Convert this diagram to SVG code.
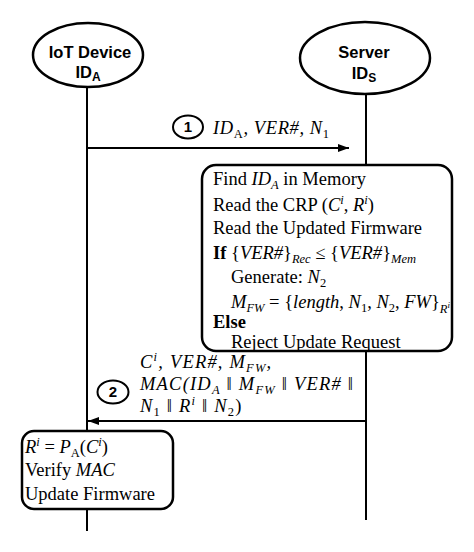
<svg xmlns="http://www.w3.org/2000/svg" width="474" height="552" viewBox="0 0 474 552">
<defs>
<style>
.ell{fill:#fff;stroke:#000;stroke-width:2.5}
.box{fill:#fff;stroke:#000;stroke-width:2.5}
.life{stroke:#000;stroke-width:2;fill:none}
.msg{stroke:#000;stroke-width:2;fill:none}
.hd{font-family:"Liberation Sans",Arial,sans-serif;font-weight:bold;font-size:16.5px;text-anchor:middle}
.hs{font-size:12px}
.t{font-family:"Liberation Serif","Times New Roman",serif;font-size:18.5px}
.i{font-style:italic}
.s{font-size:12.5px}
.ss{font-size:9px}
.b{font-weight:bold}
.num{font-family:"Liberation Sans",Arial,sans-serif;font-weight:bold;font-size:15px;text-anchor:middle}
.m1{letter-spacing:0.6px}
.m2{letter-spacing:1.2px}
</style>
<marker id="ah" markerWidth="12" markerHeight="10" refX="11" refY="5" orient="auto" markerUnits="userSpaceOnUse">
<path d="M0,1 L11,5 L0,9 Z" fill="#000"/>
</marker>
</defs>
<g id="connectors">
<line class="life" x1="87" y1="86" x2="87" y2="531"/>
<line class="life" x1="366" y1="93" x2="366" y2="520"/>
<line class="msg" x1="87" y1="148" x2="349" y2="148" marker-end="url(#ah)"/>
<line class="msg" x1="366" y1="421" x2="88" y2="421" marker-end="url(#ah)"/>
</g>
<g id="iot-device">
<ellipse class="ell" cx="88" cy="55" rx="55" ry="32"/>
<text class="hd" x="90" y="58">IoT Device</text>
<text class="hd" x="88" y="78">ID<tspan class="hs" dy="3">A</tspan></text>
</g>
<g id="server">
<ellipse class="ell" cx="365" cy="58" rx="65" ry="36"/>
<text class="hd" x="364" y="58">Server</text>
<text class="hd" x="364" y="79">ID<tspan class="hs" dy="3">S</tspan></text>
</g>
<g id="msg1-label">
<ellipse cx="188" cy="127" rx="15" ry="11.5" fill="#fff" stroke="#000" stroke-width="2"/>
<text class="num" x="188" y="132">1</text>
<text class="t i m1" x="213" y="134">ID<tspan class="s" dy="4" font-style="normal">A</tspan><tspan dy="-4">, VER#, N</tspan><tspan class="s" dy="4" font-style="normal">1</tspan></text>
</g>
<g id="server-process">
<rect class="box" x="202" y="165" width="250" height="186" rx="14"/>
<text class="t" x="213" y="185">Find <tspan class="i">ID</tspan><tspan class="i s" dy="4">A</tspan><tspan dy="-4"> in Memory</tspan></text>
<text class="t" x="213" y="211">Read the CRP (<tspan class="i">C</tspan><tspan class="i s" dy="-7">i</tspan><tspan dy="7">, </tspan><tspan class="i">R</tspan><tspan class="i s" dy="-7">i</tspan><tspan dy="7">)</tspan></text>
<text class="t" x="213" y="234">Read the Updated Firmware</text>
<text class="t" x="213" y="259"><tspan class="b">If</tspan> {<tspan class="i">VER#</tspan>}<tspan class="i s" dy="4">Rec</tspan><tspan dy="-4"> ≤ {</tspan><tspan class="i">VER#</tspan>}<tspan class="i s" dy="4">Mem</tspan></text>
<text class="t" x="231" y="283">Generate: <tspan class="i">N</tspan><tspan class="s" dy="4">2</tspan></text>
<text class="t" x="231" y="308"><tspan class="i">M</tspan><tspan class="i s" dy="4">FW</tspan><tspan dy="-4"> = {</tspan><tspan class="i">length</tspan>, <tspan class="i">N</tspan><tspan class="s" dy="4">1</tspan><tspan dy="-4">, </tspan><tspan class="i">N</tspan><tspan class="s" dy="4">2</tspan><tspan dy="-4">, </tspan><tspan class="i">FW</tspan>}<tspan class="i s" dy="5">R</tspan><tspan class="i ss" dy="-5">i</tspan></text>
<text class="t b" x="213" y="328">Else</text>
<text class="t" x="231" y="348">Reject Update Request</text>
</g>
<g id="msg2-label">
<ellipse cx="113" cy="392" rx="15.5" ry="11.5" fill="#fff" stroke="#000" stroke-width="2"/>
<text class="num" x="113" y="397">2</text>
<text class="t i m2" x="140" y="368">C<tspan class="s" dy="-7">i</tspan><tspan dy="7">, VER#, M</tspan><tspan class="s" dy="4">FW</tspan><tspan dy="-4">,</tspan></text>
<text class="t i m2" x="140" y="390">MAC(ID<tspan class="s" dy="4">A</tspan><tspan dy="-4" font-style="normal"> ‖ </tspan>M<tspan class="s" dy="4">FW</tspan><tspan dy="-4" font-style="normal"> ‖ </tspan>VER#<tspan font-style="normal"> ‖</tspan></text>
<text class="t i m2" x="140" y="412">N<tspan class="s" dy="4" font-style="normal">1</tspan><tspan dy="-4" font-style="normal"> ‖ </tspan>R<tspan class="s" dy="-7">i</tspan><tspan dy="7" font-style="normal"> ‖ </tspan>N<tspan class="s" dy="4" font-style="normal">2</tspan><tspan dy="-4" font-style="normal">)</tspan></text>
</g>
<g id="device-process">
<rect class="box" x="22" y="431" width="151" height="78" rx="12"/>
<text class="t" x="25" y="453"><tspan class="i">R</tspan><tspan class="i s" dy="-7">i</tspan><tspan dy="7"> = </tspan><tspan class="i">P</tspan><tspan class="s" dy="4">A</tspan><tspan dy="-4">(</tspan><tspan class="i">C</tspan><tspan class="i s" dy="-7">i</tspan><tspan dy="7">)</tspan></text>
<text class="t" x="25" y="476">Verify <tspan class="i">MAC</tspan></text>
<text class="t" x="25" y="500">Update Firmware</text>
</g>
</svg>
